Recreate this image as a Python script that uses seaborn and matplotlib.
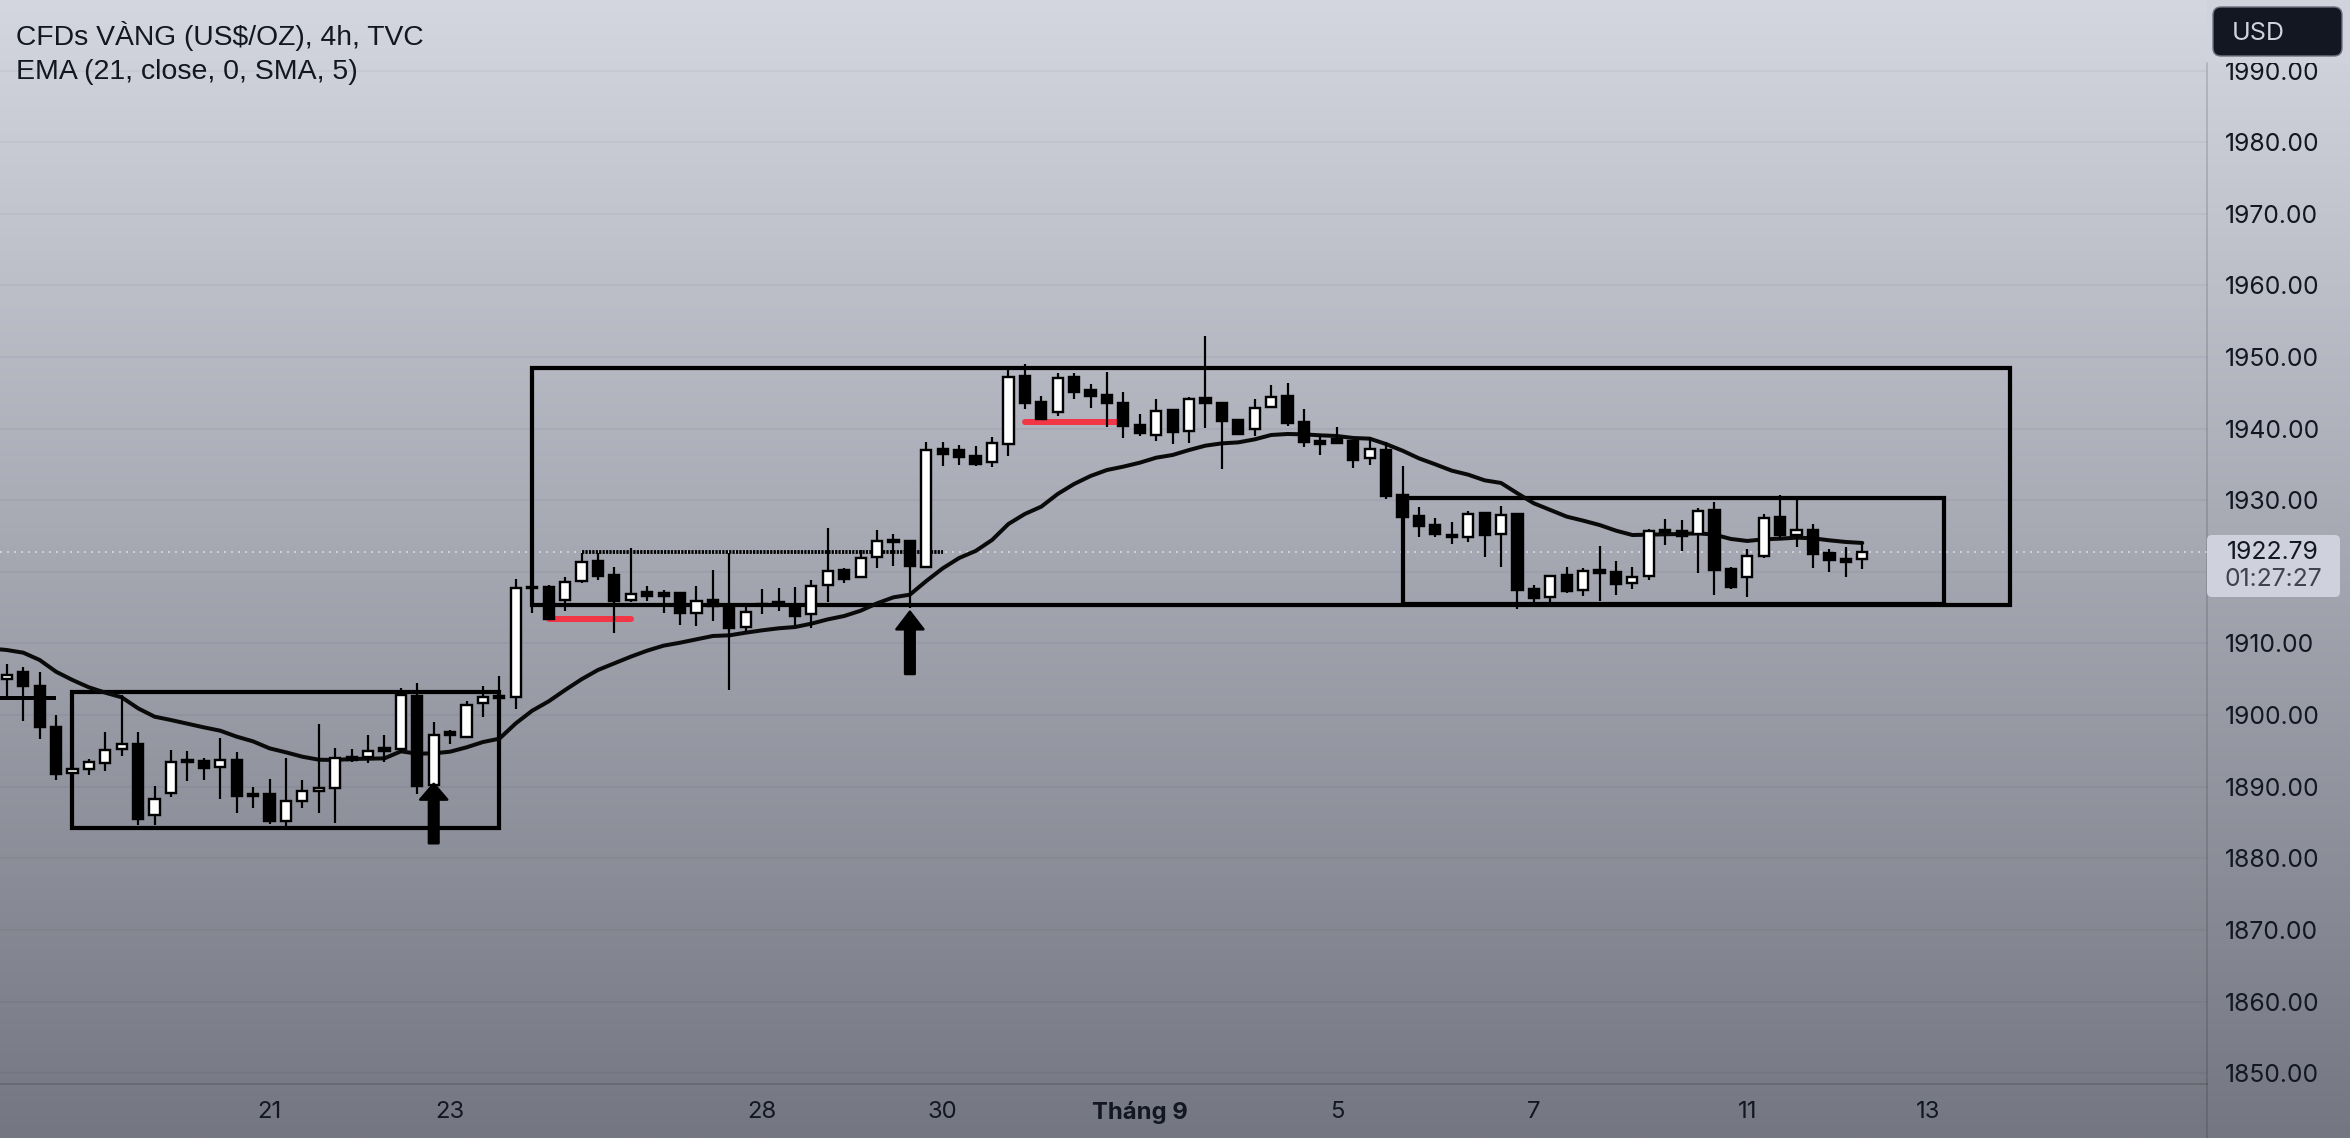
import numpy as np
import seaborn as sns
import matplotlib
matplotlib.use("Agg")
import matplotlib.pyplot as plt
from matplotlib.lines import Line2D
from matplotlib.patches import Rectangle, FancyBboxPatch, Polygon
from matplotlib.transforms import IdentityTransform

direction = ("WBBBWWWWBW" "WBBWBBBWWW" "WBWBWBWBWW" "BWBBWWBBWB" "BBWBBWBBBW"
             "WBWWBBWBBB" "WWBBWBBBBB" "WBWBBBWWBB" "BBBWBBBBBW" "BWBBWBWBBW"
             "WBBWBBWWBW" "BBBW")
body_top = [1905.55,1905.97,1904.06,1898.34,1892.47,1893.40,1895.08,1895.90,1895.96,1888.23,
            1893.49,1893.68,1893.54,1893.68,1893.73,1888.98,1888.98,1887.95,1889.35,1889.86,
            1894.00,1894.20,1895.03,1895.36,1902.76,1902.67,1897.26,1897.64,1901.45,1902.57,
            1902.67,1917.80,1917.90,1917.84,1918.63,1921.43,1921.52,1919.52,1916.96,1917.14,
            1917.05,1917.00,1915.98,1916.07,1915.42,1914.44,1915.52,1915.75,1915.42,1918.03,
            1920.17,1920.26,1921.99,1924.36,1924.41,1924.27,1937.02,1937.16,1936.98,1936.14,
            1938.05,1947.27,1947.36,1943.68,1947.13,1947.22,1945.40,1944.71,1943.54,1940.47,
            1942.52,1942.61,1944.19,1944.24,1943.54,1941.21,1942.94,1944.47,1944.52,1940.89,
            1938.28,1938.56,1938.23,1937.12,1936.98,1930.69,1927.81,1926.55,1925.15,1928.13,
            1928.18,1927.99,1928.09,1917.61,1919.47,1919.52,1920.17,1920.22,1919.94,1919.34,
            1925.76,1925.85,1925.71,1928.55,1928.65,1920.36,1922.22,1927.58,1927.62,1925.81,
            1925.81,1922.60,1921.76,1922.79]
body_bottom = [1905.00,1904.11,1898.38,1891.82,1891.87,1892.50,1893.26,1895.20,1885.53,1886.09,
               1889.12,1893.40,1892.61,1892.70,1888.70,1888.75,1885.21,1885.25,1887.95,1889.35,
               1889.86,1893.73,1894.20,1895.03,1895.31,1890.10,1890.19,1897.26,1896.89,1901.64,
               1902.39,1902.48,1917.75,1913.47,1916.03,1918.68,1919.47,1915.98,1916.03,1916.63,
               1916.68,1914.30,1914.30,1915.24,1912.16,1912.30,1915.33,1915.47,1913.84,1914.07,
               1918.12,1919.05,1919.24,1922.03,1924.13,1920.87,1920.73,1936.51,1936.05,1935.11,
               1935.30,1937.91,1943.63,1941.31,1942.28,1945.17,1944.57,1943.63,1940.42,1939.40,
               1939.07,1939.54,1939.63,1943.63,1941.12,1939.26,1939.91,1942.98,1940.84,1938.19,
               1937.91,1938.05,1935.67,1935.86,1930.65,1927.71,1926.41,1925.29,1924.83,1924.83,
               1925.16,1925.25,1917.47,1916.31,1916.45,1917.33,1917.43,1919.85,1918.36,1918.45,
               1919.38,1925.57,1925.00,1925.34,1920.31,1917.89,1919.24,1922.27,1925.16,1925.20,
               1922.55,1921.71,1921.34,1921.80]
wick_high = [1907.13,1906.67,1905.97,1899.97,1892.47,1893.87,1897.59,1902.80,1897.59,1890.10,
             1895.08,1894.98,1894.00,1896.75,1894.84,1889.91,1891.07,1894.00,1890.93,1898.75,
             1895.36,1895.26,1897.17,1897.17,1903.74,1904.43,1898.99,1897.92,1901.97,1904.06,
             1905.41,1918.96,1919.00,1918.17,1919.24,1922.68,1922.59,1920.64,1923.29,1918.03,
             1917.47,1917.14,1918.03,1920.26,1922.59,1915.14,1917.61,1917.75,1917.84,1918.87,
             1926.08,1920.54,1923.06,1925.85,1925.29,1924.27,1938.09,1938.09,1937.68,1937.54,
             1938.79,1948.20,1948.99,1944.52,1947.78,1947.78,1946.20,1947.92,1945.08,1942.05,
             1944.10,1942.70,1944.47,1952.95,1943.68,1941.31,1944.10,1946.10,1946.33,1942.70,
             1939.12,1940.19,1938.28,1938.89,1938.19,1934.79,1929.02,1927.48,1926.92,1928.51,
             1928.32,1929.21,1928.09,1918.13,1919.47,1920.64,1920.50,1923.57,1921.48,1920.64,
             1925.95,1927.39,1927.25,1928.88,1929.72,1920.68,1923.15,1928.04,1930.69,1930.04,
             1926.65,1923.15,1923.43,1924.36]
wick_low = [1902.30,1899.22,1896.70,1890.98,1891.87,1891.68,1892.24,1894.33,1884.65,1884.65,
            1888.56,1890.80,1890.93,1888.28,1886.32,1887.02,1884.79,1884.56,1887.02,1886.32,
            1884.93,1893.45,1893.35,1893.50,1894.75,1888.98,1889.50,1895.96,1896.89,1899.73,
            1896.70,1900.85,1914.30,1913.47,1914.58,1918.50,1918.87,1911.51,1915.84,1915.98,
            1914.30,1912.58,1912.44,1913.19,1903.50,1911.65,1914.12,1914.54,1912.44,1912.16,
            1915.84,1918.50,1919.24,1920.54,1920.82,1915.00,1920.50,1934.84,1934.93,1934.79,
            1934.69,1936.23,1942.75,1941.31,1941.77,1944.15,1942.89,1940.28,1938.70,1938.98,
            1938.33,1937.86,1938.05,1940.10,1934.42,1939.17,1938.98,1942.98,1940.38,1937.44,
            1936.33,1937.96,1934.51,1934.93,1930.18,1926.50,1924.92,1924.92,1923.90,1924.22,
            1922.13,1920.73,1914.87,1915.61,1915.61,1917.05,1916.68,1915.98,1916.82,1917.66,
            1918.92,1923.76,1922.97,1919.89,1916.78,1917.61,1916.54,1921.94,1924.60,1923.53,
            1920.59,1920.03,1919.34,1920.36]
ema_21 = [1909.30,
          1909.09,1908.72,1907.70,1906.06,1904.90,1903.88,1903.13,1902.48,1900.94,1899.78,
          1899.31,1898.80,1898.29,1897.82,1896.99,1896.33,1895.36,1894.80,1894.19,1893.77,
          1893.73,1893.87,1893.91,1893.96,1894.94,1894.61,1894.66,1894.89,1895.50,1896.24,
          1896.71,1898.85,1900.62,1901.92,1903.50,1905.00,1906.30,1907.23,1908.16,1909.00,
          1909.70,1910.11,1910.58,1911.05,1911.14,1911.51,1911.84,1912.12,1912.30,1912.77,
          1913.37,1913.84,1914.58,1915.61,1916.45,1916.82,1918.73,1920.50,1921.94,1922.92,
          1924.45,1926.69,1928.09,1929.11,1930.88,1932.28,1933.39,1934.23,1934.70,1935.25,
          1935.95,1936.33,1937.02,1937.63,1937.95,1938.09,1938.51,1939.12,1939.26,1939.21,
          1939.07,1938.98,1938.70,1938.61,1937.85,1936.93,1935.86,1935.02,1934.14,1933.58,
          1932.79,1932.42,1930.97,1929.58,1928.65,1927.72,1927.16,1926.55,1925.76,1925.15,
          1925.20,1925.25,1925.30,1925.39,1925.20,1924.60,1924.32,1924.55,1924.64,1924.78,
          1924.69,1924.41,1924.18,1924.04]

price_ticks = list(range(1850, 2000, 10))
hidden_price_label = 1920
date_pos = [16, 27, 46, 57, 69, 81, 93, 106, 117]
date_labels = ["21", "23", "28", "30", "Tháng 9", "5", "7", "11", "13"]
last_price = 1922.79

boxes = [(4, 30, 1884.18, 1903.22), (32, 122, 1915.42, 1948.52), (85, 118, 1915.50, 1930.37)]
red_lines = [(33, 38, 1913.42), (62, 68, 1940.98)]
dotted_level = (35, 57, 1922.73)
old_level = (-1, 3, 1902.34)
arrows = [(26, 1890.4, 1888.2, 1882.1), (55, 1914.44, 1911.98, 1905.74)]

W, H = 2350, 1138
PW, PB = 2207, 1083.5
INK = "#131722"

sns.set_theme(style="white", rc={"axes.facecolor": "none", "figure.facecolor": "white"})
plt.rcParams["font.family"] = ["Inter", "DejaVu Sans"]

fig = plt.figure(figsize=(W / 100, H / 100), dpi=100)
bg = fig.add_axes([0, 0, 1, 1], zorder=-1)
top_col = np.array([0xD4, 0xD6, 0xE0]) / 255
bot_col = np.array([0x74, 0x76, 0x81]) / 255
t = np.linspace(0, 1, 569)[:, None, None]
bg.imshow(top_col[None, None, :] * (1 - t) + bot_col[None, None, :] * t, aspect="auto", extent=(0, 1, 0, 1))
bg.axis("off")

ax = fig.add_axes([0, 1 - PB / H, PW / W, PB / H])
n = len(direction)
idx = np.arange(n)
top, bottom, hi, lo = map(np.array, (body_top, body_bottom, wick_high, wick_low))
up = np.array([c == "W" for c in direction])

ax.set_xlim(-6.8 / 16.42, (PW - 6.8) / 16.42)
ax.set_ylim(1848.55, 1999.87)
px = 0.72

ax.set_yticks(price_ticks)
ax.set_yticklabels(["" if p == hidden_price_label else f"{p:.2f}" for p in price_ticks], fontsize=17.8, color=INK)
ax.yaxis.tick_right()
ax.set_xticks(date_pos)
ax.set_xticklabels(date_labels, fontsize=17.2, color=INK)
for lab, txt in zip(ax.get_xticklabels(), date_labels):
    if txt.startswith("Tháng"):
        lab.set_fontweight("bold")
ax.tick_params(axis="y", length=0, pad=13)
ax.tick_params(axis="x", length=0, pad=12.5)
ax.grid(axis="y", color="black", alpha=0.035, linewidth=2 * px)
ax.set_axisbelow(True)
for s in ("top", "left", "right"):
    ax.spines[s].set_visible(False)
ax.spines["bottom"].set_color((0, 0, 0, 0.13))
ax.spines["bottom"].set_linewidth(2 * px)

ax.axhline(last_price, color="#CDCFD9", lw=2 * px, ls=(0, (1, 2.5)), zorder=1)
ax.hlines(old_level[2], old_level[0], old_level[1], color="black", lw=4 * px, zorder=2)
for a, b, y in red_lines:
    ax.plot([a, b], [y, y], color="#F23645", lw=6 * px, solid_capstyle="round", zorder=2)
ax.hlines(dotted_level[2], dotted_level[0], dotted_level[1], color="black", lw=3.8 * px,
          linestyles=[(0, (0.6, 0.3))], zorder=2)
for x0, x1, y0, y1 in boxes:
    ax.add_patch(Rectangle((x0, y0), x1 - x0, y1 - y0, fill=False, ec="black", lw=4.2 * px, zorder=2))

sns.lineplot(x=np.arange(-1, n), y=ema_21, ax=ax, color="#0a0a0a", linewidth=4 * px, errorbar=None, zorder=3)

ax.vlines(idx, lo, hi, color="black", lw=2.2 * px, zorder=4)
ax.bar(idx[up], (top - bottom)[up], bottom=bottom[up], width=0.62, color="white", edgecolor="black",
       linewidth=2.4 * px, zorder=5)
ax.bar(idx[~up], (top - bottom)[~up], bottom=bottom[~up], width=0.62, color="black", edgecolor="black",
       linewidth=2.4 * px, zorder=5)

hw, sw = 13.5 / 16.42, 4.8 / 16.42
for x, tip, neck, tail in arrows:
    ax.add_patch(Polygon([(x, tip), (x + hw, neck), (x + sw, neck), (x + sw, tail), (x - sw, tail),
                          (x - sw, neck), (x - hw, neck)], closed=True, fc="black", ec="black",
                         lw=2.5 * px, joinstyle="round", zorder=6))


def py(y):
    return H - y


idt = IdentityTransform()
fig.add_artist(Rectangle((PW, py(63)), W - PW, 63, transform=idt, fc="#D0D2DC", ec="none", zorder=1))
fig.add_artist(Line2D([PW, PW], [0, py(63)], transform=idt, color=(0, 0, 0, 0.13), lw=2 * px, zorder=1))
fig.add_artist(FancyBboxPatch((2216, py(53)), 123, 43, boxstyle="round,pad=3,rounding_size=8", transform=idt,
                              fc=INK, ec="#6f7280", lw=1, zorder=2))
fig.text(2232 / W, 1 - 33 / H, "USD", fontsize=18, color="#D0D2DC", va="center", ha="left")
fig.add_artist(FancyBboxPatch((PW + 2, py(595)), 129, 58, boxstyle="round,pad=2,rounding_size=5",
                              transform=idt, fc="#CFD1DC", ec="none", zorder=2))
fig.text(2273 / W, 1 - 552 / H, f"{last_price:.2f}", fontsize=17.8, color=INK, va="center", ha="center")
fig.text(2273 / W, 1 - 580 / H, "01:27:27", fontsize=17.8, color="#40434E", va="center", ha="center")
head = ["Liberation Sans", "DejaVu Sans"]
fig.text(16 / W, 1 - 36 / H, "CFDs VÀNG (US$/OZ), 4h, TVC", fontsize=20.3, color=INK, va="center", ha="left", family=head)
fig.text(16 / W, 1 - 72 / H, "EMA (21, close, 0, SMA, 5)", fontsize=20.5, color=INK, va="center", ha="left", family=head)

assert len(body_top) == len(body_bottom) == len(wick_high) == len(wick_low) == n and len(ema_21) == n + 1
fig.savefig("out.png", dpi=100)
